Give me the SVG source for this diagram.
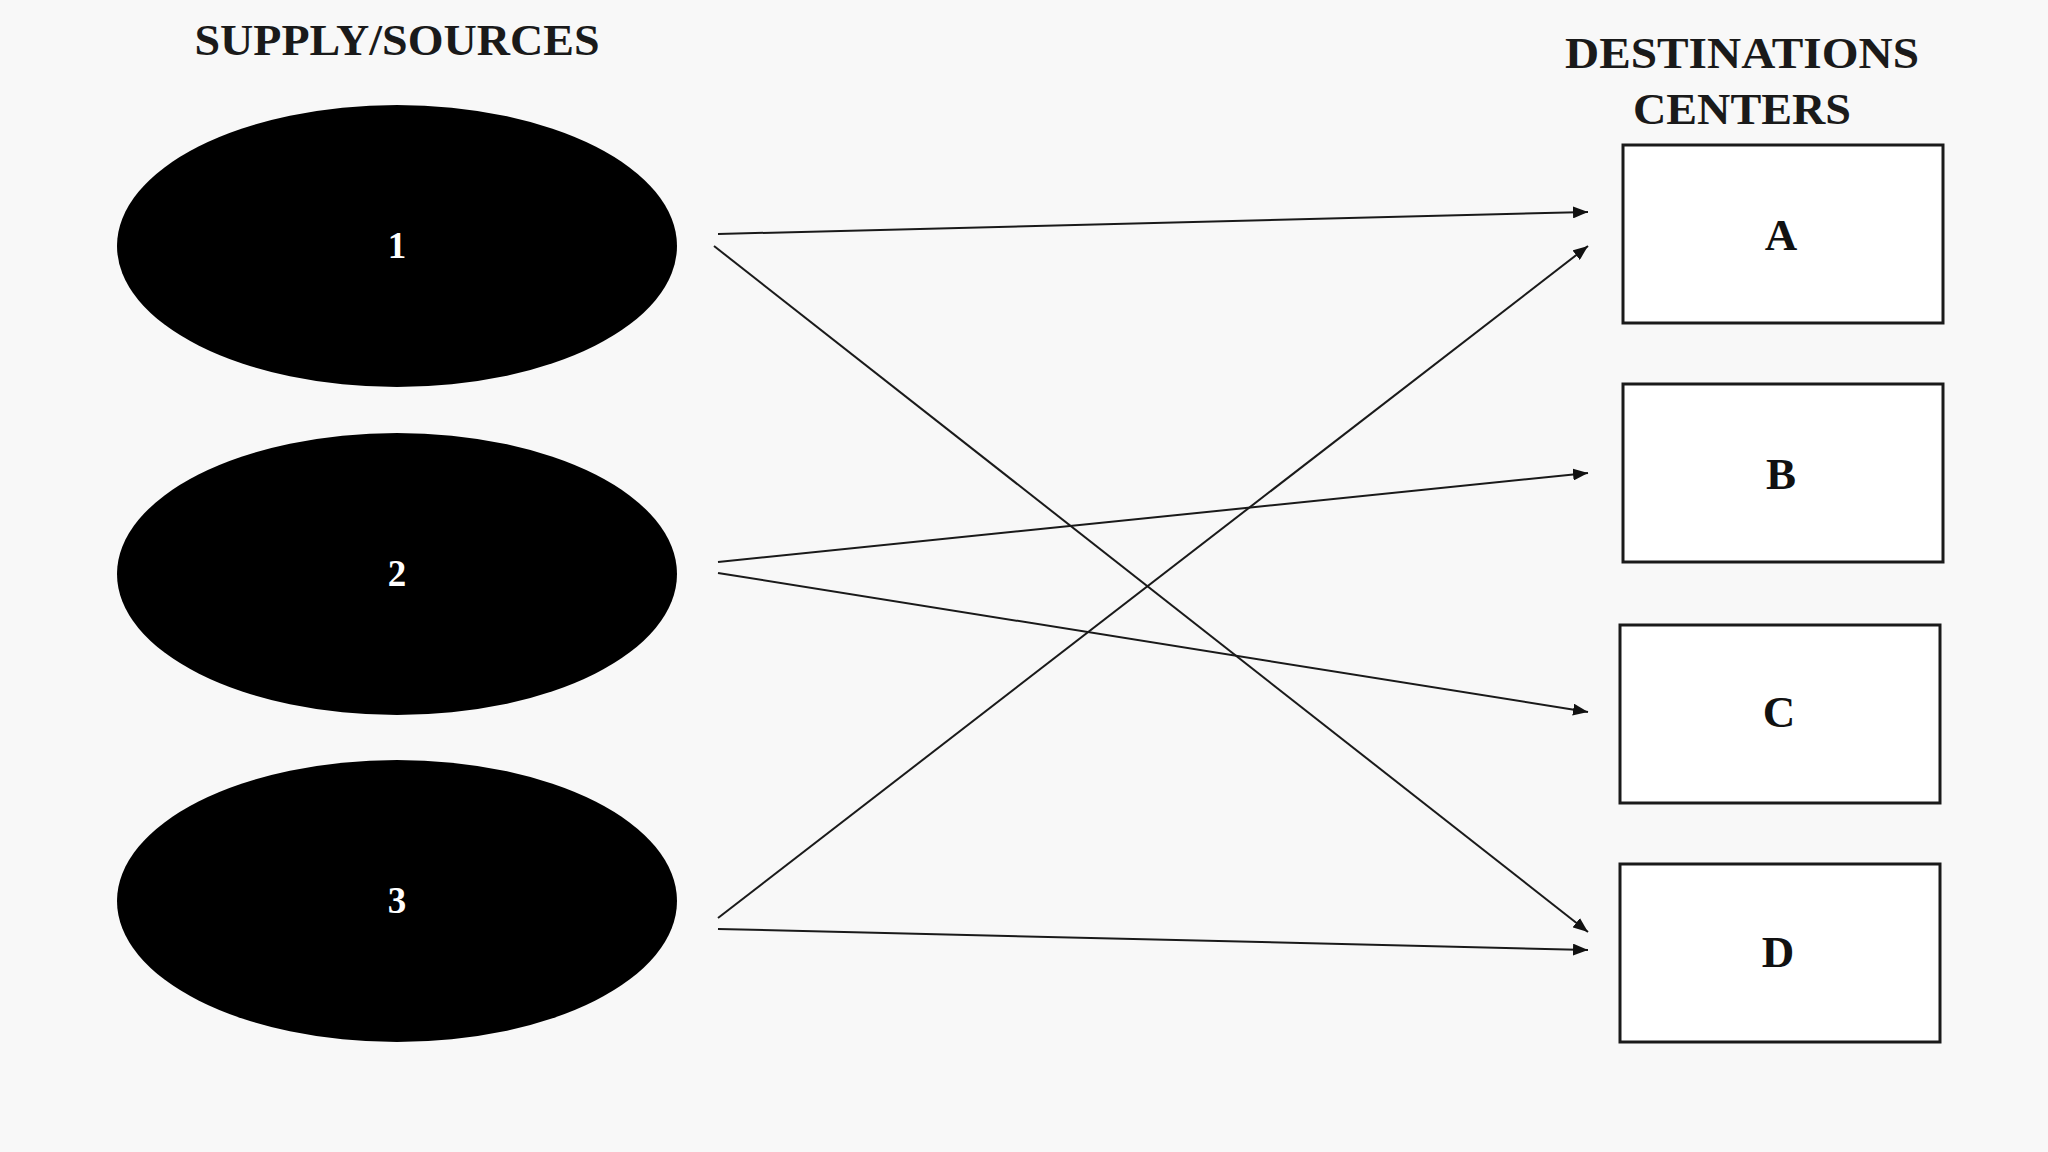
<svg xmlns="http://www.w3.org/2000/svg" width="2048" height="1152" viewBox="0 0 2048 1152">
<style>
.title{font-family:"Liberation Serif","Times New Roman",serif;font-weight:bold;font-size:44px;fill:#1a1a1a;text-anchor:middle}
.num{font-family:"Liberation Serif","Times New Roman",serif;font-weight:bold;font-size:37px;fill:#ffffff;text-anchor:middle}
.let{font-family:"Liberation Serif","Times New Roman",serif;font-weight:bold;font-size:45px;fill:#111;text-anchor:middle}
.src{fill:#000}
.dst{fill:#ffffff;stroke:#1a1a1a;stroke-width:3}
.edge{stroke:#1a1a1a;stroke-width:2;fill:none;marker-end:url(#arr)}
</style>
<defs>
<marker id="arr" markerUnits="userSpaceOnUse" markerWidth="16" markerHeight="12" refX="15" refY="6" orient="auto">
<path d="M0,0 L15,6 L0,12 Z" fill="#111"/>
</marker>
</defs>
<rect x="0" y="0" width="2048" height="1152" fill="#f8f8f8"/>
<text class="title" x="397" y="55" textLength="405" lengthAdjust="spacingAndGlyphs">SUPPLY/SOURCES</text>
<text class="title" x="1742" y="68" textLength="354" lengthAdjust="spacingAndGlyphs">DESTINATIONS</text>
<text class="title" x="1742" y="124" textLength="218" lengthAdjust="spacingAndGlyphs">CENTERS</text>
<g id="edges">
<line class="edge" x1="718" y1="234" x2="1588" y2="212"/>
<line class="edge" x1="714" y1="246" x2="1588" y2="932"/>
<line class="edge" x1="718" y1="562" x2="1588" y2="473"/>
<line class="edge" x1="718" y1="573" x2="1588" y2="712"/>
<line class="edge" x1="718" y1="918" x2="1588" y2="246"/>
<line class="edge" x1="718" y1="929" x2="1588" y2="950"/>
</g>
<g id="node-1"><ellipse class="src" cx="397" cy="246" rx="280" ry="141"/><text class="num" x="397" y="258">1</text></g>
<g id="node-2"><ellipse class="src" cx="397" cy="574" rx="280" ry="141"/><text class="num" x="397" y="586">2</text></g>
<g id="node-3"><ellipse class="src" cx="397" cy="901" rx="280" ry="141"/><text class="num" x="397" y="913">3</text></g>
<g id="node-A"><rect class="dst" x="1623" y="145" width="320" height="178"/><text class="let" x="1781" y="250">A</text></g>
<g id="node-B"><rect class="dst" x="1623" y="384" width="320" height="178"/><text class="let" x="1781" y="489">B</text></g>
<g id="node-C"><rect class="dst" x="1620" y="625" width="320" height="178"/><text class="let" x="1779" y="727">C</text></g>
<g id="node-D"><rect class="dst" x="1620" y="864" width="320" height="178"/><text class="let" x="1778" y="967">D</text></g>
</svg>
